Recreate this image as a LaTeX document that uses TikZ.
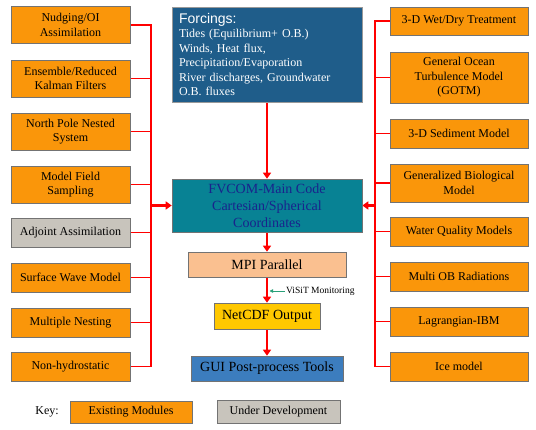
\documentclass[tikz,border=0pt]{standalone}
\usepackage{fontspec}
\setmainfont{Liberation Serif}
\newfontfamily\forcingsfont{Liberation Sans}
\usetikzlibrary{arrows.meta}
\pgfdeclarelayer{bg}
\pgfsetlayers{bg,main}

\definecolor{modorange}{RGB}{250,150,10}
\definecolor{devgray}{RGB}{200,196,188}
\definecolor{forcingblue}{RGB}{31,93,138}
\definecolor{fvcomteal}{RGB}{8,130,148}
\definecolor{fvcomtext}{RGB}{25,35,140}
\definecolor{mpipeach}{RGB}{250,192,144}
\definecolor{netcdfgold}{RGB}{255,200,0}
\definecolor{guiblue}{RGB}{60,125,190}
\definecolor{busred}{RGB}{255,0,0}
\definecolor{visitgreen}{RGB}{40,160,120}

\tikzset{
  module/.style={draw=black!55, line width=0.6pt, fill=modorange, align=center,
    inner sep=1pt, font=\fontsize{12}{14.5}\selectfont},
  leftmod/.style={module, minimum width=119pt},
  rightmod/.style={module, minimum width=138pt},
  devel/.style={module, fill=devgray},
  forcingbox/.style={draw=black!40, line width=0.6pt, fill=forcingblue, text=white,
    text width=176pt, inner xsep=7pt, minimum height=95pt, align=left,
    font=\fontsize{12}{14.5}\selectfont},
  mainbox/.style={draw=black!55, line width=0.6pt, align=center, inner sep=1pt,
    font=\fontsize{14}{17}\selectfont},
  bus/.style={draw=busred, line width=1.8pt},
  feed/.style={draw=busred, line width=2.2pt, -{Triangle[width=8pt,length=6pt]}},
  monitor/.style={draw=visitgreen, line width=0.8pt, -{Triangle[width=3.5pt,length=3.5pt]}},
}

\begin{document}
\begin{tikzpicture}[x=1pt, y=-1pt]
        \useasboundingbox (0,0) rectangle (536,430);
        % left column
        \node (l1) [leftmod, minimum height=37pt] at (70.5, 25) {Nudging/OI\\Assimilation};
        \node (l2) [leftmod, minimum height=37pt] at (70.5, 78.5) {Ensemble/Reduced\\Kalman Filters};
        \node (l3) [leftmod, minimum height=37pt] at (70.5, 131.5) {North Pole Nested\\System};
        \node (l4) [leftmod, minimum height=37pt] at (70.5, 184.5) {Model Field\\Sampling};
        \node (l5) [leftmod, devel, minimum height=29pt] at (70.5, 232.5) {Adjoint Assimilation};
        \node (l6) [leftmod, minimum height=29pt] at (70.5, 277.5) {Surface Wave Model};
        \node (l7) [leftmod, minimum height=29pt] at (70.5, 322.5) {Multiple Nesting};
        \node (l8) [leftmod, minimum height=29pt] at (70.5, 366.5) {Non-hydrostatic};
        % right column
        \node (r1) [rightmod, minimum height=28pt] at (459, 21) {3-D Wet/Dry Treatment};
        \node (r2) [rightmod, minimum height=51pt] at (459, 77.5) {General Ocean\\Turbulence Model\\(GOTM)};
        \node (r3) [rightmod, minimum height=29pt] at (459, 133.5) {3-D Sediment Model};
        \node (r4) [rightmod, minimum height=38pt] at (459, 183) {Generalized Biological\\Model};
        \node (r5) [rightmod, minimum height=29pt] at (459, 231.5) {Water Quality Models};
        \node (r6) [rightmod, minimum height=29pt] at (459, 276.5) {Multi OB Radiations};
        \node (r7) [rightmod, minimum height=29pt] at (459, 321.5) {Lagrangian-IBM};
        \node (r8) [rightmod, minimum height=29pt] at (459, 366.5) {Ice model};
        % centre column
        \node (forcings) [forcingbox] at (267, 54.5) {{\forcingsfont\fontsize{14}{16}\selectfont Forcings:}\\Tides (Equilibrium+ O.B.)\\Winds, Heat flux,\\Precipitation/Evaporation\\River discharges, Groundwater\\O.B. fluxes};
        \node (fvcom) [mainbox, fill=fvcomteal, text=fvcomtext, minimum width=190pt, minimum height=53pt] at (267, 205.5) {FVCOM-Main Code\\Cartesian/Spherical\\Coordinates};
        \node (mpi) [mainbox, fill=mpipeach, minimum width=158pt, minimum height=25pt] at (267, 264.5) {MPI Parallel};
        \node (netcdf) [mainbox, fill=netcdfgold, minimum width=106pt, minimum height=26pt] at (267, 316) {NetCDF Output};
        \node (gui) [mainbox, fill=guiblue, minimum width=152pt, minimum height=25pt] at (267, 368.5) {GUI Post-process Tools};
        \node (visit) [anchor=west, inner sep=1pt, font=\fontsize{9.5}{11}\selectfont] at (285, 291) {ViSiT Monitoring};
        \coordinate (vtip) at (269.5, 291);
        % key
        \node (key) [font=\fontsize{12}{14.5}\selectfont] at (47, 412) {Key:};
        \node (exist) [module, minimum width=122pt, minimum height=22pt] at (131, 412) {Existing Modules};
        \node (undev) [devel, minimum width=123pt, minimum height=23pt] at (278.5, 411.5) {Under Development};
        % bus points
        \coordinate (lbus) at (151, 205.5);
        \coordinate (rbus) at (375, 205.5);
        \begin{pgfonlayer}{bg}
                \draw [bus] (l1.east) -| (lbus);
                \draw [bus] (l8.east) -| (lbus);
                \draw [bus] (l2.east) -- (l2.east -| lbus);
                \draw [bus] (l3.east) -- (l3.east -| lbus);
                \draw [bus] (l4.east) -- (l4.east -| lbus);
                \draw [bus] (l5.east) -- (l5.east -| lbus);
                \draw [bus] (l6.east) -- (l6.east -| lbus);
                \draw [bus] (l7.east) -- (l7.east -| lbus);
                \draw [bus] (r1.west) -| (rbus);
                \draw [bus] (r8.west) -| (rbus);
                \draw [bus] (r2.west) -- (r2.west -| rbus);
                \draw [bus] (r3.west) -- (r3.west -| rbus);
                \draw [bus] (r4.west) -- (r4.west -| rbus);
                \draw [bus] (r5.west) -- (r5.west -| rbus);
                \draw [bus] (r6.west) -- (r6.west -| rbus);
                \draw [bus] (r7.west) -- (r7.west -| rbus);
                \draw [feed] (lbus) -- (fvcom.west);
                \draw [feed] (rbus) -- (fvcom.east);
                \draw [feed] (forcings.south) -- (fvcom.north);
                \draw [feed] (fvcom.south) -- (mpi.north);
                \draw [feed] (mpi.south) -- (netcdf.north);
                \draw [feed] (netcdf.south) -- (gui.north);
        \end{pgfonlayer}
        \draw [monitor] (visit.west) -- (vtip);
\end{tikzpicture}
\end{document}
